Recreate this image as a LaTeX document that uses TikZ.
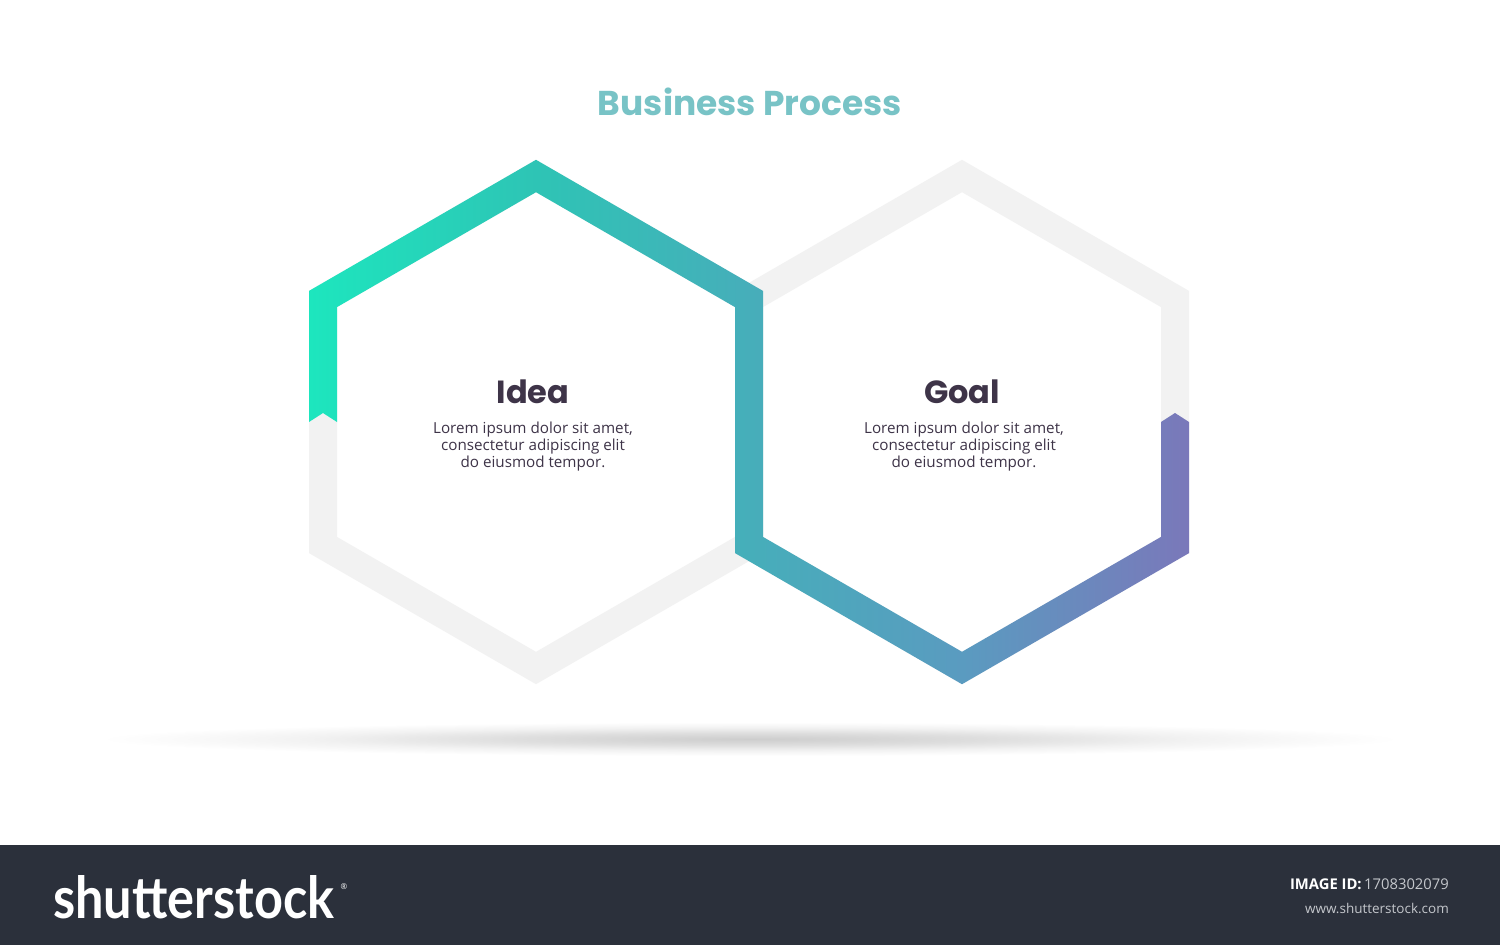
\documentclass[tikz,border=0pt]{standalone}
\usepackage{fontspec}
\setmainfont{Open Sans}
\newfontfamily\titlefont{Poppins}
\newfontfamily\logofont{Lato}
\definecolor{gA}{HTML}{1DE6BE}
\definecolor{gB}{HTML}{2EC4B5}
\definecolor{gC}{HTML}{46AEBA}
\definecolor{gD}{HTML}{5A9BC0}
\definecolor{gE}{HTML}{7A78BA}
\definecolor{hexgrey}{HTML}{F2F2F2}
\definecolor{titleC}{HTML}{78C3C6}
\definecolor{txt}{HTML}{3E3448}
\definecolor{band}{HTML}{2B303B}
\definecolor{idgrey}{HTML}{C4C7CC}
\definecolor{sh0}{HTML}{CDCDCD}
\definecolor{sh1}{HTML}{DEDEDE}
\definecolor{sh2}{HTML}{F2F2F2}
\pgfdeclarehorizontalshading{hexgrad}{100bp}{color(0bp)=(gA); color(25bp)=(gA); color(37.9bp)=(gB); color(50bp)=(gC); color(62.1bp)=(gD); color(75bp)=(gE); color(100bp)=(gE)}
\pgfdeclareradialshading{shadowgrad}{\pgfpointorigin}{color(0bp)=(sh0); color(9bp)=(sh1); color(17bp)=(sh2); color(25bp)=(white); color(50bp)=(white)}
\tikzset{
  greyhex/.style={draw=hexgrey, line width=28, line join=miter},
  heading/.style={font=\titlefont\bfseries\fontsize{32}{36}\selectfont, text=txt, inner sep=0, anchor=base},
  body/.style={font=\fontsize{15.2}{17.2}\selectfont, text=txt, align=center, inner sep=0, anchor=north},
}
\begin{document}
\begin{tikzpicture}[x=1pt,y=-1pt]
\useasboundingbox (0,0) rectangle (1500,945);
\fill[white] (0,0) rectangle (1500,945);
% shadow
\shade[shading=shadowgrad] (750,739) ellipse (650 and 17);
% grey hexagons
\draw[greyhex] (536,176) -- (749,299) -- (749,545) -- (536,668) -- (323,545) -- (323,299) -- cycle;
\draw[greyhex] (962,176) -- (1175,299) -- (1175,545) -- (962,668) -- (749,545) -- (749,299) -- cycle;
% coloured path
\shade[shading=hexgrad] (309,422) -- (309,290.9) -- (536,159.8) -- (763,290.9) -- (763,536.9)
  -- (962,651.8) -- (1161,536.9) -- (1161,422) -- (1175,413) -- (1189,422) -- (1189,553.1)
  -- (962,684.2) -- (735,553.1) -- (735,307.1) -- (536,192.2) -- (337,307.1) -- (337,422)
  -- (323,413) -- cycle;
% title
\node[text=titleC, inner sep=0] (title) at (750,102) {\resizebox{304pt}{!}{\titlefont\bfseries\fontsize{28}{32}\selectfont Business Process}};
% texts
\node[heading] (idea) at (533,403) {Idea};
\node[body] (ideatxt) at (533,421.5) {Lorem ipsum dolor sit amet,\\consectetur adipiscing elit\\do eiusmod tempor.};
\node[heading] (goal) at (962,403) {Goal};
\node[body] (goaltxt) at (964,421.5) {Lorem ipsum dolor sit amet,\\consectetur adipiscing elit\\do eiusmod tempor.};
% bottom band
\fill[band] (0,845) rectangle (1500,945);
\node[anchor=base west, inner sep=0, text=white] (logo) at (53,918) {\resizebox{281pt}{43pt}{\logofont\bfseries shutterstock}};
\node[anchor=center, inner sep=0, text=white, font=\fontsize{8}{8}\selectfont] (reg) at (344,887) {®};
\node[anchor=base east, inner sep=0, text=white, font=\fontsize{14.8}{16}\selectfont] (imgid) at (1449,889) {\textbf{IMAGE ID:}\,\textcolor{idgrey}{1708302079}};
\node[anchor=base east, inner sep=0, text=idgrey, font=\fontsize{13.5}{15}\selectfont] (www) at (1449,913) {www.shutterstock.com};
\end{tikzpicture}
\end{document}
